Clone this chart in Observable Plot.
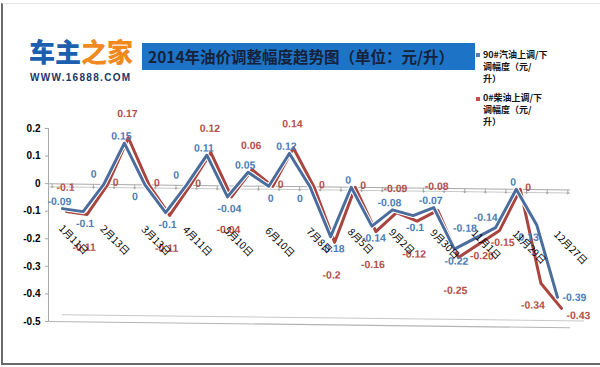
<!DOCTYPE html>
<html><head><meta charset="utf-8">
<script src="https://cdn.jsdelivr.net/npm/d3@7"></script>
<script src="https://cdn.jsdelivr.net/npm/@observablehq/plot@0.6"></script>
<style>
body{margin:0;background:#fff}
#wrap{position:relative;width:600px;height:367px;overflow:hidden;background:#fff;font-family:"Noto Sans CJK SC","Liberation Sans",sans-serif}
#border{position:absolute;left:1px;top:3px;width:620px;height:362px;border-left:2px solid #6a6a6a;border-bottom:2px solid #6a6a6a;border-top:1px solid #e4e4e4;box-sizing:border-box}
#chart{position:absolute;left:0;top:0}
#logo{position:absolute;left:29px;top:38px;font-size:26px;font-weight:900;line-height:26px;letter-spacing:0px;white-space:nowrap}
#logo .b{color:#1b5fae}#logo .o{color:#f08a1e}
#url{position:absolute;left:30px;top:72px;font-family:"Liberation Sans",Arial,sans-serif;font-size:10px;font-weight:bold;letter-spacing:1.3px;color:#1b3768;white-space:nowrap}
#title{position:absolute;left:142px;top:43px;width:333px;height:27px;background:#1d74c6;color:#16213a;font-size:15.5px;font-weight:bold;line-height:27px;padding-left:6px;box-sizing:border-box;white-space:nowrap}
.leg{position:absolute;left:483px;font-size:9px;font-weight:bold;line-height:12px;color:#111}
.mk{position:absolute;width:4px;height:4px}
</style></head>
<body><div id="wrap">
<div id="border"></div>
<div id="chart"></div>
<div id="logo"><span class="b">车主</span><span class="o">之家</span></div>
<div id="url">WWW.16888.COM</div>
<div id="title"></div>
<div class="mk" style="left:476px;top:53px;background:#4f81bd"></div>
<div class="leg" id="leg0" style="top:49px"></div>
<div class="mk" style="left:476px;top:97px;background:#c0504d"></div>
<div class="leg" id="leg1" style="top:92px"></div>
</div>
<script>
const titleText = "2014年油价调整幅度趋势图（单位：元/升）";
const seriesNames = [["90#汽油上调/下","调幅度（元/","升）"], ["0#柴油上调/下","调幅度（元/","升）"]];
const tickLabels = ["1月11日","2月13日","3月13日","4月11日","5月10日","6月10日","7月8日","8月5日","9月2日","9月30日","11月1日","11月29日","12月27日"];
const gasoline90 = ["-0.09","-0.1","0","0.15","0","-0.1","0","0.11","-0.04","0.05","0","0.12","0","-0.18","0","-0.14","-0.08","-0.1","-0.07","-0.22","-0.18","-0.14","0","-0.13","-0.39"];
const diesel0 = ["-0.1","-0.11","0","0.17","0","-0.11","0","0.12","-0.04","0.06","0","0.14","0","-0.2","0","-0.16","-0.09","-0.12","-0.08","-0.25","-0.20","-0.15","0","-0.34","-0.43"];
const yTicks = [0.2, 0.1, 0, -0.1, -0.2, -0.3, -0.4, -0.5];

document.getElementById("title").textContent = titleText;
document.getElementById("leg0").innerHTML = seriesNames[0].join("<br>");
document.getElementById("leg1").innerHTML = seriesNames[1].join("<br>");

const BLUE = "#4a6d9e", RED = "#a9443f", BLUE_T = "#4c7db5", RED_T = "#b54f4a";

function rows(arr, s) {
  return arr.map((t, i) => ({i, v: +t, t, s}));
}
const gas = rows(gasoline90, 0), die = rows(diesel0, 1);

function place(d, arr, s) {
  const n = arr.length, v = d.v;
  const p = d.i > 0 ? arr[d.i - 1].v : null, q = d.i < n - 1 ? arr[d.i + 1].v : null;
  if (d.i === n - 1) return "right";
  if (s === 1 && v === 0) return "zero";
  const isMax = (p === null || v >= p) && (q === null || v >= q);
  const isMin = (p === null || v <= p) && (q === null || v <= q);
  if (isMax) return "max";
  if (isMin) return "min";
  return q > v ? "rise" : "fall";
}
const offs = [
  {right:{dx:17,dy:0}, max:{dx:-3,dy:-7}, min:{dx:2,dy:12}, rise:{dx:-10,dy:-10}, fall:{dx:-10,dy:12}},
  {right:{dx:17,dy:7}, zero:{dx:8,dy:-2}, max:{dx:-1,dy:-24}, min:{dx:-3,dy:33}, rise:{dx:3,dy:12}, fall:{dx:-8,dy:22}}
];
gas.forEach(d => d.p = place(d, gas, 0));
die.forEach(d => d.p = place(d, die, 1));

const labelMarks = [];
[[gas, 0, BLUE_T, 0], [die, 1, RED_T, 4]].forEach(([data, s, c, shift]) => {
  for (const k of Object.keys(offs[s])) {
    labelMarks.push(Plot.text(data.filter(d => d.p === k), {
      x: "i", y: "v", text: "t", fill: c, fontSize: 10.5, fontWeight: "bold",
      fontFamily: "Liberation Sans, Arial, sans-serif",
      dx: offs[s][k].dx + shift, dy: offs[s][k].dy
    }));
  }
});

const tickIdx = d3.range(0, gasoline90.length, 2);
const sepIdx = d3.range(0, gasoline90.length + 1).map(i => i - 0.5);

const chart = Plot.plot({
  width: 600, height: 367,
  marginLeft: 48, marginRight: 30, marginTop: 128, marginBottom: 46,
  style: {background: "transparent", fontFamily: "Liberation Sans, Arial, sans-serif"},
  x: {domain: [0, gasoline90.length - 1], range: [62, 557], axis: null},
  y: {domain: [-0.5, 0.2], axis: null},
  marks: [
    Plot.frame({anchor: "left", stroke: "#a8a8a8"}),
    Plot.axisY(yTicks, {label: null, tickSize: 3, tickPadding: 5, stroke: "#a8a8a8", fill: "#000", fontSize: 10, fontWeight: "bold",
      tickFormat: d => String(+d.toFixed(1))}),
    Plot.ruleY([-0.5], {stroke: "#b4b4b4", strokeWidth: 1.2}),
    Plot.ruleY([-0.5], {stroke: "#c8c8c8", strokeWidth: 1, dy: -7, dx: 14}),
    Plot.ruleY([0], {stroke: "#a8a8a8", strokeWidth: 1}),
    Plot.ruleY([0], {stroke: "#c8c8c8", strokeWidth: 1, dy: 3}),
    Plot.vector(sepIdx, {x: d => d, y: 0, length: 4, rotate: 180, anchor: "start", stroke: "#a8a8a8", strokeWidth: 1}),
    Plot.line(die, {x: "i", y: "v", stroke: "#fff", strokeWidth: 5, dx: 4}),
    Plot.line(die, {x: "i", y: "v", stroke: RED, strokeWidth: 3, dx: 4}),
    Plot.line(gas, {x: "i", y: "v", stroke: "#fff", strokeWidth: 5}),
    Plot.line(gas, {x: "i", y: "v", stroke: BLUE, strokeWidth: 3}),
    ...labelMarks,
    Plot.text(tickIdx, {x: d => d, y: 0, text: d => tickLabels[d / 2], rotate: 45, textAnchor: "start",
      dx: -2, dy: 43, fontSize: 10, fill: "#000", fontFamily: "Noto Sans CJK SC, sans-serif"})
  ]
});
// slight perspective tilt of the plot body (the 3D floor/zero plane sink toward the right)
const tilt = 0.012, x0 = 48;
d3.select(chart).selectAll(':scope > g[aria-label="line"], :scope > g[aria-label="text"], :scope > g[aria-label="rule"], :scope > g[aria-label="vector"]')
  .each(function () {
    const old = this.getAttribute("transform") || "";
    this.setAttribute("transform", `matrix(1,${tilt},0,1,0,${-tilt * x0}) ${old}`);
  });
document.getElementById("chart").appendChild(chart);
</script>
</body></html>
